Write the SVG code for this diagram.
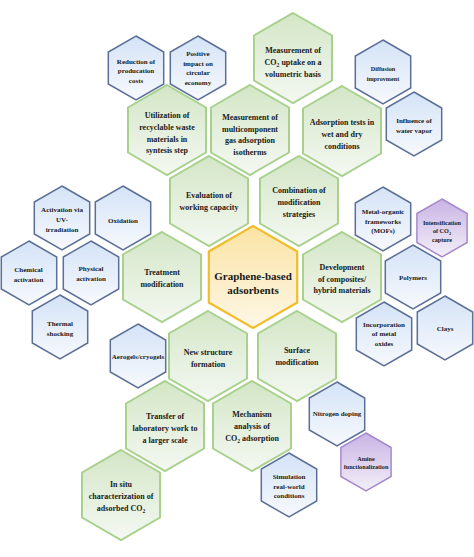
<svg xmlns="http://www.w3.org/2000/svg" xmlns:xlink="http://www.w3.org/1999/xlink" width="474" height="557" viewBox="0 0 474 557">
<defs>
<linearGradient id="gg" x1="0" y1="0" x2="0" y2="1"><stop offset="0" stop-color="#d3e6c6"/><stop offset="1" stop-color="#f4f8f2"/></linearGradient>
<linearGradient id="gb" x1="0" y1="0" x2="0" y2="1"><stop offset="0" stop-color="#d4e3f7"/><stop offset="1" stop-color="#f7f9fd"/></linearGradient>
<linearGradient id="gp" x1="0" y1="0" x2="0" y2="1"><stop offset="0" stop-color="#c9b3e4"/><stop offset="1" stop-color="#f3eff9"/></linearGradient>
<linearGradient id="gy" x1="0" y1="0" x2="0" y2="1"><stop offset="0" stop-color="#fae3a4"/><stop offset="1" stop-color="#fdf7e6"/></linearGradient>
<polygon id="hG" points="0,-45 39,-22.5 39,22.5 0,45 -39,22.5 -39,-22.5"/>
<polygon id="hB" points="0,-32 27.7,-16 27.7,16 0,32 -27.7,16 -27.7,-16"/>
<polygon id="hP" points="0,-29 25.1,-14.5 25.1,14.5 0,29 -25.1,14.5 -25.1,-14.5"/>
<polygon id="hY" points="0,-51 44.2,-25.5 44.2,25.5 0,51 -44.2,25.5 -44.2,-25.5"/>
</defs>
<style>
.g use{fill:url(#gg);stroke:#a9d18e;stroke-width:2}
.b use{fill:url(#gb);stroke:#5b6f97;stroke-width:1.5}
.p use{fill:url(#gp);stroke:#a68acb;stroke-width:1.5}
.y use{fill:url(#gy);stroke:#f2bd2a;stroke-width:2.2}
text{font-family:"Liberation Serif","Times New Roman",serif;font-weight:bold;text-anchor:middle;fill:#1a1a1a}
.g text{font-size:8px}
.b text{font-size:7px}
.s text{font-size:6.2px}
.y text{font-size:11px}
.sub{font-size:70%}
</style>
<rect width="474" height="557" fill="#ffffff"/>
<g id="connectors"/>

<g id="n-co2-uptake" class="g"><use href="#hG" x="293" y="58"/>
<text x="293" y="53">Measurement of</text>
<text x="293" y="65">CO<tspan class="sub" dy="2">2</tspan><tspan dy="-2"> uptake on a</tspan></text>
<text x="293" y="77">volumetric basis</text></g>

<g id="n-utilization" class="g"><use href="#hG" x="167" y="130"/>
<text x="167" y="118">Utilization of</text>
<text x="167" y="130">recyclable waste</text>
<text x="167" y="141.5">materials in</text>
<text x="167" y="153">syntesis step</text></g>

<g id="n-multicomponent" class="g"><use href="#hG" x="250" y="130"/>
<text x="250" y="120">Measurement of</text>
<text x="250" y="131.5">multicomponent</text>
<text x="250" y="143">gas adsorption</text>
<text x="250" y="155">isotherms</text></g>

<g id="n-wetdry" class="g"><use href="#hG" x="342" y="131"/>
<text x="342" y="125">Adsorption tests in</text>
<text x="342" y="137">wet and dry</text>
<text x="342" y="149">conditions</text></g>

<g id="n-working" class="g"><use href="#hG" x="209" y="201"/>
<text x="209" y="198">Evaluation of</text>
<text x="209" y="210">working capacity</text></g>

<g id="n-combination" class="g"><use href="#hG" x="299" y="201"/>
<text x="299" y="193">Combination of</text>
<text x="299" y="205">modification</text>
<text x="299" y="216.5">strategies</text></g>

<g id="n-treatment" class="g"><use href="#hG" x="162" y="277"/>
<text x="162" y="275">Treatment</text>
<text x="162" y="286.5">modification</text></g>

<g id="n-development" class="g"><use href="#hG" x="342" y="277"/>
<text x="342" y="270">Development</text>
<text x="342" y="281.5">of composites/</text>
<text x="342" y="293">hybrid materials</text></g>

<g id="n-newstructure" class="g"><use href="#hG" x="208" y="356"/>
<text x="208" y="355">New structure</text>
<text x="208" y="366.5">formation</text></g>

<g id="n-surface" class="g"><use href="#hG" x="297" y="356"/>
<text x="297" y="353">Surface</text>
<text x="297" y="365">modification</text></g>

<g id="n-transfer" class="g"><use href="#hG" x="165" y="426"/>
<text x="165" y="419">Transfer of</text>
<text x="165" y="431">laboratory work to</text>
<text x="165" y="443">a larger scale</text></g>

<g id="n-mechanism" class="g"><use href="#hG" x="252" y="426"/>
<text x="252" y="417">Mechanism</text>
<text x="252" y="429">analysis of</text>
<text x="252" y="441">CO<tspan class="sub" dy="2">2</tspan><tspan dy="-2"> adsorption</tspan></text></g>

<g id="n-insitu" class="g"><use href="#hG" x="121" y="495"/>
<text x="121" y="487">In situ</text>
<text x="121" y="499">characterization of</text>
<text x="121" y="511">adsorbed CO<tspan class="sub" dy="2">2</tspan></text></g>

<g id="n-center" class="y"><use href="#hY" x="253" y="277"/>
<text x="253" y="280">Graphene-based</text>
<text x="253" y="294">adsorbents</text></g>

<g id="n-costs" class="b"><use href="#hB" x="136" y="68"/>
<text x="136" y="63.5">Reduction of</text>
<text x="136" y="73">producation</text>
<text x="136" y="82.5">costs</text></g>

<g id="n-circular" class="b"><use href="#hB" x="198" y="68"/>
<text x="198" y="56">Positive</text>
<text x="198" y="65.5">impact on</text>
<text x="198" y="75">circular</text>
<text x="198" y="84.5">economy</text></g>

<g id="n-diffusion" class="b s"><use href="#hB" x="383" y="72"/>
<text x="383" y="71">Diffusion</text>
<text x="383" y="81">improvment</text></g>

<g id="n-water" class="b"><use href="#hB" x="414" y="124"/>
<text x="414" y="123">Influence of</text>
<text x="414" y="133">water vapor</text></g>

<g id="n-uv" class="b"><use href="#hB" x="62" y="218"/>
<text x="62" y="211.5">Activation via</text>
<text x="62" y="221.5">UV-</text>
<text x="62" y="231.5">irradiation</text></g>

<g id="n-oxidation" class="b"><use href="#hB" x="123" y="218"/>
<text x="123" y="222.5">Oxidation</text></g>

<g id="n-chemical" class="b"><use href="#hB" x="29" y="273"/>
<text x="28.5" y="271.5">Chemical</text>
<text x="28.5" y="281.5">activation</text></g>

<g id="n-physical" class="b"><use href="#hB" x="91" y="273"/>
<text x="91" y="270.5">Physical</text>
<text x="91" y="280.5">activation</text></g>

<g id="n-thermal" class="b"><use href="#hB" x="60" y="327"/>
<text x="60" y="325.5">Thermal</text>
<text x="60" y="335.5">shocking</text></g>

<g id="n-aerogels" class="b"><use href="#hB" x="138" y="356"/>
<text x="138" y="358.5">Aerogels/cryogels</text></g>

<g id="n-mofs" class="b"><use href="#hB" x="383" y="219"/>
<text x="383" y="213.5">Metal-organic</text>
<text x="383" y="223.5">frameworks</text>
<text x="383" y="233">(MOFs)</text></g>

<g id="n-intensification" class="p s"><use href="#hP" x="442" y="228"/>
<text x="442" y="225">Intensification</text>
<text x="442" y="233">of CO<tspan class="sub" dy="1.5">2</tspan></text>
<text x="442" y="242">capture</text></g>

<g id="n-polymers" class="b"><use href="#hB" x="413" y="277"/>
<text x="413" y="279.5">Polymers</text></g>

<g id="n-oxides" class="b"><use href="#hB" x="384" y="334"/>
<text x="384" y="326.5">Incorporation</text>
<text x="384" y="336">of metal</text>
<text x="384" y="345.5">oxides</text></g>

<g id="n-clays" class="b"><use href="#hB" x="445" y="328"/>
<text x="445" y="330.5">Clays</text></g>

<g id="n-nitrogen" class="b"><use href="#hB" x="337" y="414"/>
<text x="337" y="415.5">Nitrogen doping</text></g>

<g id="n-amine" class="p s"><use href="#hP" x="366" y="462"/>
<text x="366" y="461">Amine</text>
<text x="366" y="469">functionalization</text></g>

<g id="n-simulation" class="b"><use href="#hB" x="289" y="485"/>
<text x="289" y="478.5">Simulation</text>
<text x="289" y="488.5">real-world</text>
<text x="289" y="497.5">conditions</text></g>
</svg>
